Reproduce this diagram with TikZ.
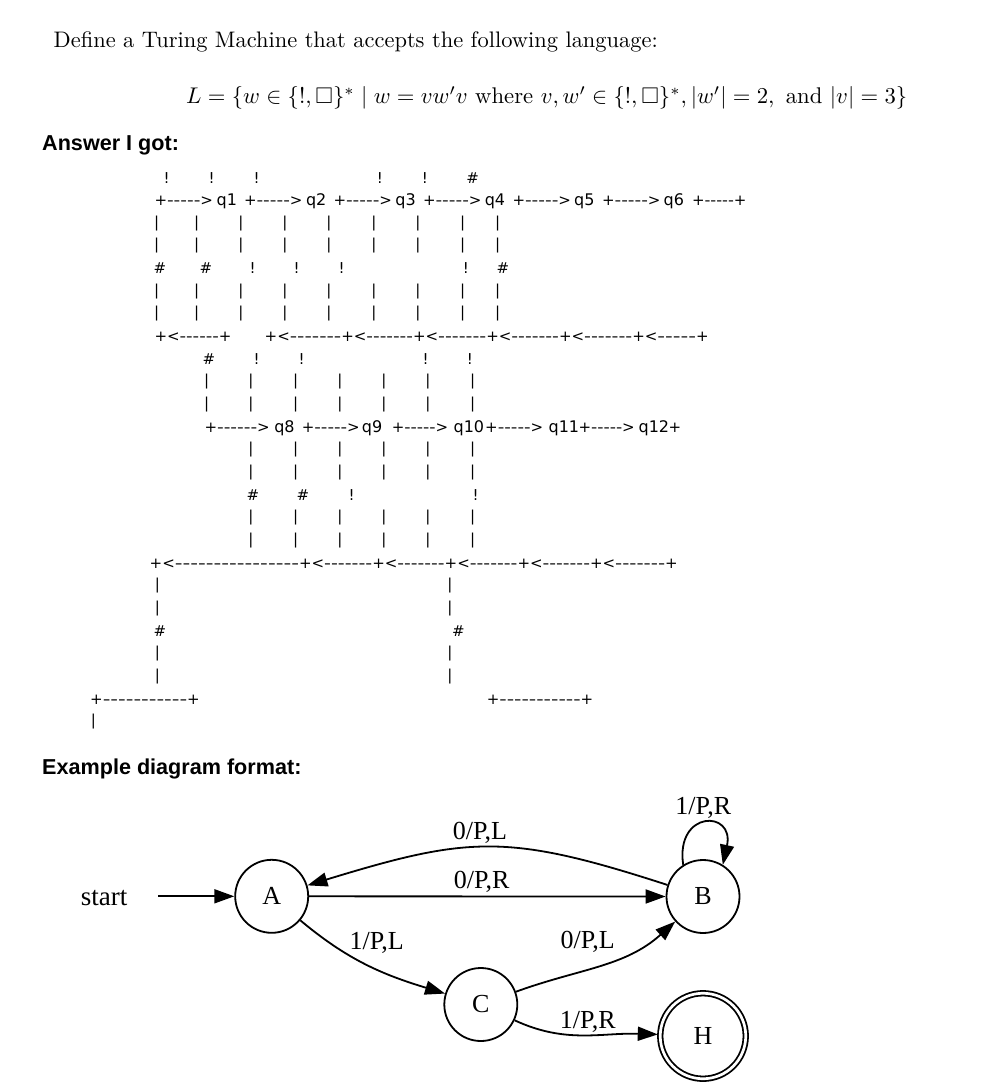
\documentclass[tikz,border=0pt]{standalone}
\usepackage{amsmath,amssymb}
\usepackage{fontspec}
\usetikzlibrary{arrows.meta}
\newfontfamily\asciisans{DejaVu Sans}[Ligatures=TeXOff]
\newfontfamily\headfont{Liberation Sans}
\newfontfamily\gvfont{Liberation Serif}
\newcommand\rowc[1]{(178+22.67*(#1))}
\newsavebox\arunbox
% #1 total width (pt), #2 leading glyphs, #3 dashes, #4 trailing glyphs
\newcommand\arun[4]{\sbox\arunbox{#2#4}\mbox{#2\resizebox{\dimexpr#1pt-\wd\arunbox\relax}{\height}{#3}#4}}
\begin{document}
\begin{tikzpicture}[x=1pt,y=1pt,
  asc/.style={inner sep=0pt,outer sep=0pt,font=\asciisans\fontsize{15}{15}\selectfont,anchor=base},
  ascq/.style={inner sep=0pt,outer sep=0pt,font=\asciisans\fontsize{16}{16}\selectfont,anchor=base west},
  ascm/.style={inner sep=0pt,outer sep=0pt,font=\asciisans\fontsize{15}{15}\selectfont,anchor=base west},
  head/.style={inner sep=0pt,anchor=base west,font=\headfont\bfseries\fontsize{21.6}{21.6}\selectfont},
  st/.style={circle,draw,line width=1.8pt,minimum size=73pt,inner sep=0pt,font=\gvfont\fontsize{26}{26}\selectfont},
  lab/.style={inner sep=0pt,font=\gvfont\fontsize{26}{26}\selectfont},
  edge/.style={line width=1.8pt,-{Triangle[length=20pt,width=14pt]}}]
\useasboundingbox (0,0) rectangle (1005,-1090);
\fill[white] (0,0) rectangle (1005,-1090);

% ---------- header ----------
\node[inner sep=0pt,anchor=base west] (title) at (53.5,-47.3)
  {\resizebox{604pt}{!}{Define a Turing Machine that accepts the following language:}};
\node[inner sep=0pt,anchor=west] (lang) at (186,-98.3)
  {\resizebox{721pt}{!}{$L = \{w \in \{!,\square\}^* \mid w = vw'v \text{ where } v, w' \in \{!,\square\}^*, |w'| = 2, \text{ and } |v| = 3\}$}};
\node[head] (ans) at (42,-150.7) {Answer I got:};

% ---------- ASCII art ----------
% row 0
\foreach \x [count=\i] in {166.7,211.7,256.7,380,425}
  \node[asc] (r0e\i) at (\x,{-\rowc{0}-5.2}) {!};
\node[asc] (r0h) at (472.7,{-\rowc{0}-5.2}) {\#};
% row 1
\foreach \k in {0,...,5}{
  \pgfmathtruncatemacro\qn{\k+1}
  \node[ascm] (r1a\k) at ({154.5+89.5*\k},{-\rowc{1}-5.2}) {\arun{58.5}{+}{-----}{>}};
  \node[ascq] (q\qn) at ({216.6+89.4*\k},{-\rowc{1}-5.2}) {q\qn};
}
\node[ascm] (r1end) at (692,{-\rowc{1}-5.2}) {\arun{54.5}{+}{-----}{+}};
% rows 2,3,5,6 bars
\foreach \r in {2,3,5,6}{
  \foreach \x [count=\i] in {156.7,196.7,241,285,329,374,418,462.7,497.7}
    \node[asc] (b\r-\i) at (\x,{-\rowc{\r}-3.9}) {|};
}
% row 4
\node[asc] (r4a) at (160,{-\rowc{4}-5.2}) {\#};
\node[asc] (r4b) at (206,{-\rowc{4}-5.2}) {\#};
\foreach \x [count=\i] in {252.7,296.7,341.7,466}
  \node[asc] (r4e\i) at (\x,{-\rowc{4}-5.2}) {!};
\node[asc] (r4c) at (503,{-\rowc{4}-5.2}) {\#};
% row 7
\node[ascm] (r7a) at (154.5,{-\rowc{7}-5.2}) {\arun{77}{+<}{------}{+}};
\foreach \xa/\xb [count=\i] in {264.7/341.3,341.3/413,413/486.3,486.3/559,559/632.3}{
  \pgfmathsetmacro\segw{\xb-\xa}
  \node[ascm] (r7s\i) at (\xa,{-\rowc{7}-5.2}) {\arun{\segw}{+<}{-------}{}};
}
\node[ascm] (r7end) at (632.3,{-\rowc{7}-5.2}) {\arun{76.4}{+<}{-----}{+}};
% row 8
\node[asc] (r8h) at (209,{-\rowc{8}-5.2}) {\#};
\foreach \x [count=\i] in {256.7,301.7,425.7,470}
  \node[asc] (r8e\i) at (\x,{-\rowc{8}-5.2}) {!};
% rows 9,10 bars
\foreach \r in {9,10}{
  \foreach \x [count=\i] in {206.7,251,295.7,340,384,428,472.7}
    \node[asc] (b\r-\i) at (\x,{-\rowc{\r}-3.9}) {|};
}
% row 11
\node[ascm] (r11a) at (204.5,{-\rowc{11}-5.2}) {\arun{65.3}{+}{------}{>}};
\node[ascq] (q8) at (274.3,{-\rowc{11}-5.2}) {q8};
\node[ascm] (r11b) at (301.8,{-\rowc{11}-5.2}) {\arun{58}{+}{-----}{>}};
\node[ascq] (q9) at (361.9,{-\rowc{11}-5.2}) {q9};
\node[ascm] (r11c) at (391.8,{-\rowc{11}-5.2}) {\arun{56.4}{+}{-----}{>}};
\node[ascq] (q10) at (453.6,{-\rowc{11}-5.2}) {q10};
\node[ascm] (r11d) at (485.2,{-\rowc{11}-5.2}) {\arun{58}{+}{-----}{>}};
\node[ascq] (q11) at (548.6,{-\rowc{11}-5.2}) {q11};
\node[ascm] (r11e) at (578.5,{-\rowc{11}-5.2}) {\arun{56.3}{+}{-----}{>}};
\node[ascq] (q12) at (638.6,{-\rowc{11}-5.2}) {q12};
\node[ascm] (r11f) at (668.5,{-\rowc{11}-5.2}) {+};
% rows 12,13,15,16 bars
\foreach \r in {12,13,15,16}{
  \foreach \x [count=\i] in {251,295.7,340,384,428,472.7}
    \node[asc] (b\r-\i) at (\x,{-\rowc{\r}-3.9}) {|};
}
% row 14
\node[asc] (r14a) at (253,{-\rowc{14}-5.2}) {\#};
\node[asc] (r14b) at (303,{-\rowc{14}-5.2}) {\#};
\node[asc] (r14c) at (351.7,{-\rowc{14}-5.2}) {!};
\node[asc] (r14d) at (475.7,{-\rowc{14}-5.2}) {!};
% row 17
\node[ascm] (r17a) at (149.7,{-\rowc{17}-5.2}) {\arun{149.3}{+<}{----------------}{}};
\foreach \xa/\xb [count=\i] in {299/372.3,372.3/444.7,444.7/517.5,517.5/590}{
  \pgfmathsetmacro\segw{\xb-\xa}
  \node[ascm] (r17s\i) at (\xa,{-\rowc{17}-5.2}) {\arun{\segw}{+<}{-------}{}};
}
\node[ascm] (r17end) at (590,{-\rowc{17}-5.2}) {\arun{87.7}{+<}{-------}{+}};
% rows 18,19,21,22 bars
\foreach \r in {18,19,21,22}{
  \node[asc] (bl\r) at (157.3,{-\rowc{\r}-3.9}) {|};
  \node[asc] (br\r) at (450,{-\rowc{\r}-3.9}) {|};
}
% row 20
\node[asc] (r20a) at (160,{-\rowc{20}-5.2}) {\#};
\node[asc] (r20b) at (458.3,{-\rowc{20}-5.2}) {\#};
% row 23
\node[ascm] (r23a) at (90.2,{-\rowc{23}-5.2}) {\arun{109.6}{+}{-----------}{+}};
\node[ascm] (r23b) at (486.8,{-\rowc{23}-5.2}) {\arun{106.4}{+}{-----------}{+}};
% row 24
\node[asc] (b24) at (93.3,{-\rowc{24}-3.9}) {|};

% ---------- example ----------
\node[head] (ex) at (42,-774) {Example diagram format:};

\node[st] (A) at (271.7,-896.3) {A};
\node[st] (B) at (703,-896.5) {B};
\node[st] (C) at (480.8,-1004.5) {C};
\node[st,double,double distance=2.7pt,minimum size=85.5pt,outer sep=2.5pt] (H) at (703,-1036) {H};

\node[lab,font=\gvfont\fontsize{27}{27}\selectfont] (start) at (104.2,-898.3) {start};
\coordinate (s0) at (158.3,-896.3);

\draw[edge] (s0) -- (A);
\draw[edge] (A) -- (B);
\draw[edge] (B) to[out=162,in=17,looseness=1.2] (A);
\draw[edge] (A) to[out=-40,in=163] (C);
\draw[edge] (C) to[out=20,in=-138] (B);
\draw[edge] (C) to[out=-25,in=178] (H);
\draw[edge] (B.122) .. controls +(-8,55) and +(12,55) .. (B.58);

\node[lab] (l1) at (480,-833.3) {0/P,L};
\node[lab] (l2) at (481.7,-881.7) {0/P,R};
\node[lab] (l3) at (376.7,-942.7) {1/P,L};
\node[lab] (l4) at (587.7,-941.7) {0/P,L};
\node[lab] (l5) at (587.8,-1021.7) {1/P,R};
\node[lab] (l6) at (703.3,-808) {1/P,R};
\end{tikzpicture}
\end{document}
